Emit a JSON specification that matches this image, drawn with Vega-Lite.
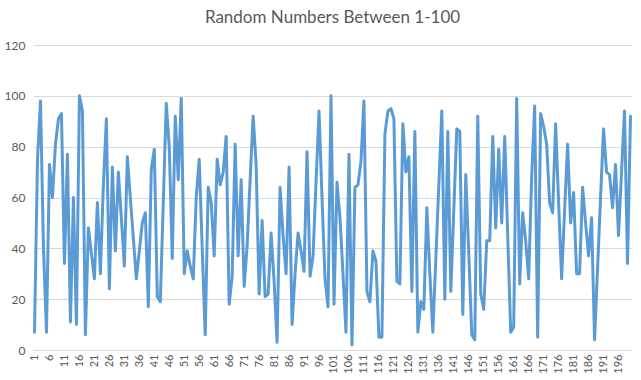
{
  "$schema": "https://vega.github.io/schema/vega-lite/v6.json",
  "width": 599,
  "height": 305,
  "autosize": {"type": "none"},
  "padding": {"left": 33, "top": 45, "right": 9, "bottom": 30},
  "background": "white",
  "title": {
    "text": "Random Numbers Between 1-100",
    "font": "Lato",
    "fontSize": 17,
    "fontWeight": "normal",
    "color": "#595959",
    "anchor": "middle",
    "offset": 12
  },
  "config": {"view": {"stroke": null}},
  "data": {
    "values": [
      {"n":1,"v":7},{"n":2,"v":75},{"n":3,"v":98},{"n":4,"v":40},{"n":5,"v":7},{"n":6,"v":73},{"n":7,"v":60},{"n":8,"v":81},{"n":9,"v":91},{"n":10,"v":93},
      {"n":11,"v":34},{"n":12,"v":77},{"n":13,"v":11},{"n":14,"v":60},{"n":15,"v":10},{"n":16,"v":100},{"n":17,"v":94},{"n":18,"v":6},{"n":19,"v":48},{"n":20,"v":38},
      {"n":21,"v":28},{"n":22,"v":58},{"n":23,"v":30},{"n":24,"v":65},{"n":25,"v":91},{"n":26,"v":24},{"n":27,"v":72},{"n":28,"v":39},{"n":29,"v":70},{"n":30,"v":52},
      {"n":31,"v":33},{"n":32,"v":76},{"n":33,"v":60},{"n":34,"v":44},{"n":35,"v":28},{"n":36,"v":39},{"n":37,"v":50},{"n":38,"v":54},{"n":39,"v":17},{"n":40,"v":71},
      {"n":41,"v":79},{"n":42,"v":21},{"n":43,"v":19},{"n":44,"v":58},{"n":45,"v":97},{"n":46,"v":80},{"n":47,"v":36},{"n":48,"v":92},{"n":49,"v":67},{"n":50,"v":99},
      {"n":51,"v":30},{"n":52,"v":39},{"n":53,"v":33},{"n":54,"v":28},{"n":55,"v":60},{"n":56,"v":75},{"n":57,"v":40},{"n":58,"v":6},{"n":59,"v":64},{"n":60,"v":58},
      {"n":61,"v":37},{"n":62,"v":75},{"n":63,"v":65},{"n":64,"v":70},{"n":65,"v":84},{"n":66,"v":18},{"n":67,"v":29},{"n":68,"v":81},{"n":69,"v":37},{"n":70,"v":67},
      {"n":71,"v":25},{"n":72,"v":41},{"n":73,"v":67},{"n":74,"v":92},{"n":75,"v":73},{"n":76,"v":22},{"n":77,"v":51},{"n":78,"v":21},{"n":79,"v":22},{"n":80,"v":46},
      {"n":81,"v":27},{"n":82,"v":3},{"n":83,"v":64},{"n":84,"v":45},{"n":85,"v":30},{"n":86,"v":72},{"n":87,"v":10},{"n":88,"v":30},{"n":89,"v":46},{"n":90,"v":39},
      {"n":91,"v":31},{"n":92,"v":78},{"n":93,"v":29},{"n":94,"v":37},{"n":95,"v":66},{"n":96,"v":94},{"n":97,"v":60},{"n":98,"v":28},{"n":99,"v":17},{"n":100,"v":100},
      {"n":101,"v":18},{"n":102,"v":66},{"n":103,"v":52},{"n":104,"v":30},{"n":105,"v":7},{"n":106,"v":77},{"n":107,"v":2},{"n":108,"v":64},{"n":109,"v":65},{"n":110,"v":74},
      {"n":111,"v":98},{"n":112,"v":23},{"n":113,"v":19},{"n":114,"v":39},{"n":115,"v":35},{"n":116,"v":5},{"n":117,"v":5},{"n":118,"v":85},{"n":119,"v":94},{"n":120,"v":95},
      {"n":121,"v":91},{"n":122,"v":27},{"n":123,"v":26},{"n":124,"v":89},{"n":125,"v":70},{"n":126,"v":76},{"n":127,"v":23},{"n":128,"v":86},{"n":129,"v":7},{"n":130,"v":19},
      {"n":131,"v":16},{"n":132,"v":56},{"n":133,"v":30},{"n":134,"v":7},{"n":135,"v":36},{"n":136,"v":65},{"n":137,"v":94},{"n":138,"v":20},{"n":139,"v":86},{"n":140,"v":23},
      {"n":141,"v":55},{"n":142,"v":87},{"n":143,"v":86},{"n":144,"v":14},{"n":145,"v":69},{"n":146,"v":38},{"n":147,"v":6},{"n":148,"v":4},{"n":149,"v":92},{"n":150,"v":22},
      {"n":151,"v":16},{"n":152,"v":43},{"n":153,"v":43},{"n":154,"v":84},{"n":155,"v":48},{"n":156,"v":79},{"n":157,"v":50},{"n":158,"v":84},{"n":159,"v":45},{"n":160,"v":7},
      {"n":161,"v":9},{"n":162,"v":99},{"n":163,"v":26},{"n":164,"v":54},{"n":165,"v":43},{"n":166,"v":28},{"n":167,"v":68},{"n":168,"v":96},{"n":169,"v":5},{"n":170,"v":93},
      {"n":171,"v":88},{"n":172,"v":81},{"n":173,"v":58},{"n":174,"v":54},{"n":175,"v":89},{"n":176,"v":58},{"n":177,"v":28},{"n":178,"v":55},{"n":179,"v":81},{"n":180,"v":50},
      {"n":181,"v":62},{"n":182,"v":30},{"n":183,"v":30},{"n":184,"v":64},{"n":185,"v":50},{"n":186,"v":37},{"n":187,"v":52},{"n":188,"v":4},{"n":189,"v":32},{"n":190,"v":60},
      {"n":191,"v":87},{"n":192,"v":70},{"n":193,"v":69},{"n":194,"v":56},{"n":195,"v":73},{"n":196,"v":45},{"n":197,"v":70},{"n":198,"v":94},{"n":199,"v":34},{"n":200,"v":92}
    ]
  },
  "mark": {"type": "line", "color": "#5B9BD5", "strokeWidth": 3, "strokeJoin": "round", "strokeCap": "round"},
  "encoding": {
    "x": {
      "field": "n",
      "type": "quantitative",
      "scale": {"domain": [0.5, 200.5], "nice": false, "zero": false},
      "axis": {
        "title": null,
        "values": [1,6,11,16,21,26,31,36,41,46,51,56,61,66,71,76,81,86,91,96,101,106,111,116,121,126,131,136,141,146,151,156,161,166,171,176,181,186,191,196],
        "labelAngle": -90,
        "labelFont": "Lato",
        "labelFontSize": 11,
        "labelColor": "#595959",
        "labelPadding": 4,
        "labelFlush": false,
        "labelOverlap": false,
        "grid": false,
        "ticks": false,
        "domainColor": "#d9d9d9",
        "domainWidth": 1
      }
    },
    "y": {
      "field": "v",
      "type": "quantitative",
      "scale": {"domain": [0, 120], "nice": false},
      "axis": {
        "title": null,
        "values": [0,20,40,60,80,100,120],
        "labelFont": "Lato",
        "labelFontSize": 12,
        "labelColor": "#595959",
        "labelPadding": 8,
        "domain": false,
        "ticks": false,
        "grid": true,
        "gridColor": "#d9d9d9",
        "gridWidth": 1
      }
    }
  }
}
